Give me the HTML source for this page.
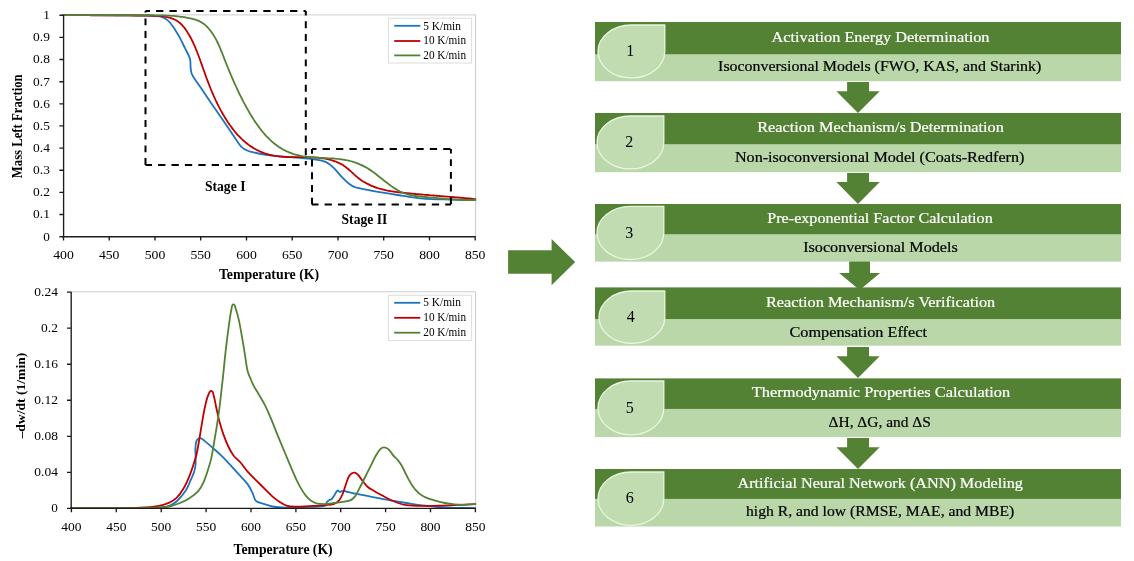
<!DOCTYPE html>
<html lang="en"><head><meta charset="utf-8"><title>Graphical abstract</title>
<style>html,body{margin:0;padding:0;background:#fff}svg{display:block}text{font-family:"Liberation Serif", serif}</style></head><body>
<svg width="1134" height="561" viewBox="0 0 1134 561">
<rect width="1134" height="561" fill="#fff"/>
<path d="M63.6,14.9 H475.6 V236.7" fill="none" stroke="#cbcbcb" stroke-width="1"/>
<path d="M63.6,15.2 C79.1,15.2 94.5,15.2 110.0,15.3 C121.7,15.4 133.3,15.5 145.0,15.7 C148.3,15.8 151.7,15.9 155.0,16.1 C156.7,16.2 158.4,16.1 160.0,16.5 C162.1,17.0 164.1,17.9 165.9,19.0 C167.4,19.9 168.7,21.2 169.9,22.5 C171.8,24.7 173.3,27.1 174.9,29.5 C176.7,32.2 178.3,35.0 179.9,37.9 C181.7,41.2 183.2,44.6 184.9,47.9 C186.2,50.6 187.7,53.2 188.9,55.9 C189.5,57.4 190.1,58.9 190.3,60.5 C190.6,62.8 190.4,65.2 190.6,67.5 C190.8,69.5 191.0,71.6 191.6,73.5 C192.0,74.7 192.7,75.8 193.4,76.9 C195.5,80.2 197.8,83.4 200.0,86.6 C202.2,89.9 204.5,93.2 206.7,96.5 C209.6,100.8 212.6,105.0 215.5,109.3 C218.5,113.7 221.6,118.2 224.6,122.6 C227.4,126.7 230.2,130.8 233.0,134.9 C235.3,138.3 237.5,141.9 240.0,145.2 C240.7,146.1 241.4,146.9 242.3,147.6 C243.3,148.4 244.3,149.2 245.5,149.7 C247.4,150.6 249.3,151.3 251.3,151.8 C256.0,153.0 260.8,154.0 265.6,154.8 C270.4,155.5 275.2,155.9 280.0,156.3 C286.6,156.9 293.2,157.3 299.8,157.9 C305.1,158.4 310.4,158.7 315.7,159.5 C319.1,160.0 322.6,160.5 325.7,161.9 C328.7,163.3 331.3,165.5 333.7,167.8 C336.6,170.5 338.9,173.9 341.7,176.8 C344.2,179.4 346.8,182.0 349.7,184.2 C351.5,185.6 353.5,186.7 355.6,187.4 C359.5,188.6 363.6,189.0 367.6,189.8 C373.3,190.9 378.9,191.9 384.6,192.9 C388.9,193.6 393.1,194.3 397.4,195.0 C401.7,195.7 406.0,196.5 410.3,197.1 C414.6,197.7 418.8,198.3 423.1,198.7 C427.4,199.1 431.6,199.2 435.9,199.3 C440.7,199.4 445.6,199.4 450.4,199.5 C458.7,199.6 467.0,199.8 475.3,200.0" fill="none" stroke="#1f74c0" stroke-width="1.8" stroke-linejoin="round" stroke-linecap="round"/>
<path d="M63.6,15.2 C64.3,15.2 64.9,15.2 65.6,15.2 C66.3,15.2 66.9,15.2 67.6,15.2 C68.3,15.2 68.9,15.2 69.6,15.2 C70.3,15.2 70.9,15.2 71.6,15.2 C72.3,15.2 72.9,15.2 73.6,15.2 C74.3,15.2 74.9,15.2 75.6,15.2 C76.3,15.2 76.9,15.2 77.6,15.2 C78.3,15.2 78.9,15.2 79.6,15.2 C80.3,15.2 80.9,15.2 81.6,15.2 C82.3,15.2 82.9,15.2 83.6,15.2 C84.3,15.2 84.9,15.2 85.6,15.2 C86.3,15.2 86.9,15.2 87.6,15.2 C88.3,15.2 88.9,15.2 89.6,15.2 C90.3,15.2 90.9,15.3 91.6,15.3 C92.3,15.3 92.9,15.3 93.6,15.3 C94.3,15.3 94.9,15.3 95.6,15.3 C96.3,15.3 96.9,15.3 97.6,15.3 C98.3,15.3 98.9,15.3 99.6,15.3 C100.3,15.3 100.9,15.3 101.6,15.3 C102.3,15.3 102.9,15.3 103.6,15.3 C104.3,15.3 104.9,15.3 105.6,15.3 C106.3,15.3 106.9,15.3 107.6,15.3 C108.3,15.3 108.9,15.3 109.6,15.3 C110.3,15.3 110.9,15.3 111.6,15.3 C112.3,15.3 112.9,15.3 113.6,15.3 C114.3,15.4 114.9,15.4 115.6,15.4 C116.3,15.4 116.9,15.4 117.6,15.4 C118.3,15.4 118.9,15.4 119.6,15.4 C120.3,15.4 120.9,15.4 121.6,15.4 C122.3,15.4 122.9,15.4 123.6,15.4 C124.3,15.4 124.9,15.4 125.6,15.4 C126.3,15.4 126.9,15.4 127.6,15.4 C128.3,15.4 128.9,15.4 129.6,15.4 C130.3,15.4 130.9,15.4 131.6,15.4 C132.3,15.4 132.9,15.4 133.6,15.5 C134.3,15.5 134.9,15.5 135.6,15.5 C136.3,15.5 136.9,15.5 137.6,15.5 C138.3,15.5 138.9,15.5 139.6,15.5 C140.3,15.5 140.9,15.5 141.6,15.5 C142.3,15.5 142.9,15.5 143.6,15.5 C144.3,15.5 144.9,15.5 145.6,15.5 C146.3,15.5 146.9,15.5 147.6,15.5 C148.3,15.5 148.9,15.5 149.6,15.6 C150.3,15.6 150.9,15.6 151.6,15.6 C152.3,15.6 152.9,15.6 153.6,15.7 C154.3,15.7 154.9,15.7 155.6,15.8 C156.3,15.8 156.9,15.8 157.6,15.9 C158.3,15.9 158.9,16.0 159.6,16.0 C160.3,16.1 160.9,16.2 161.6,16.2 C162.3,16.3 162.9,16.4 163.6,16.5 C164.3,16.6 164.9,16.7 165.6,16.8 C166.3,16.9 166.9,17.0 167.6,17.2 C168.3,17.3 168.9,17.5 169.6,17.7 C170.3,17.8 170.9,18.0 171.6,18.3 C172.3,18.5 172.9,18.8 173.6,19.1 C174.3,19.4 174.9,19.7 175.6,20.0 C176.3,20.4 177.0,20.8 177.6,21.3 C178.3,21.8 179.0,22.3 179.6,22.8 C180.3,23.4 181.0,24.0 181.6,24.6 C182.3,25.3 183.0,26.1 183.6,26.8 C184.3,27.7 185.0,28.5 185.6,29.4 C186.3,30.4 187.0,31.4 187.6,32.4 C188.3,33.5 189.0,34.6 189.6,35.7 C190.3,37.0 191.0,38.2 191.6,39.5 C192.3,40.9 193.0,42.3 193.6,43.7 C194.3,45.2 195.0,46.7 195.6,48.3 C196.3,49.9 197.0,51.6 197.6,53.2 C198.3,55.0 198.9,56.8 199.6,58.5 C200.3,60.4 200.9,62.3 201.6,64.1 C202.3,66.0 202.9,67.9 203.6,69.8 C204.3,71.7 204.9,73.6 205.6,75.5 C206.3,77.3 206.9,79.1 207.6,80.9 C208.3,82.7 208.9,84.4 209.6,86.1 C210.3,87.8 210.9,89.4 211.6,91.0 C212.3,92.6 212.9,94.1 213.6,95.7 C214.3,97.1 214.9,98.6 215.6,100.1 C216.3,101.4 216.9,102.8 217.6,104.2 C218.3,105.5 218.9,106.8 219.6,108.1 C220.3,109.4 220.9,110.6 221.6,111.8 C222.3,113.0 222.9,114.2 223.6,115.3 C224.3,116.4 224.9,117.5 225.6,118.6 C226.3,119.7 226.9,120.7 227.6,121.7 C228.3,122.7 228.9,123.7 229.6,124.7 C230.3,125.6 230.9,126.5 231.6,127.4 C232.3,128.3 232.9,129.2 233.6,130.0 C234.3,130.9 234.9,131.7 235.6,132.5 C236.3,133.3 236.9,134.0 237.6,134.8 C238.3,135.5 238.9,136.2 239.6,136.9 C240.3,137.6 240.9,138.2 241.6,138.9 C242.3,139.5 242.9,140.1 243.6,140.8 C244.3,141.3 244.9,141.9 245.6,142.5 C246.3,143.0 246.9,143.6 247.6,144.1 C248.3,144.6 248.9,145.1 249.6,145.6 C250.3,146.0 250.9,146.5 251.6,146.9 C252.3,147.3 252.9,147.8 253.6,148.2 C254.3,148.6 254.9,148.9 255.6,149.3 C256.3,149.7 256.9,150.0 257.6,150.3 C258.3,150.7 258.9,151.0 259.6,151.3 C260.3,151.6 260.9,151.9 261.6,152.1 C262.3,152.4 262.9,152.7 263.6,152.9 C264.3,153.1 264.9,153.4 265.6,153.6 C266.3,153.8 266.9,154.0 267.6,154.2 C268.3,154.4 268.9,154.6 269.6,154.7 C270.3,154.9 270.9,155.1 271.6,155.2 C272.3,155.4 272.9,155.5 273.6,155.6 C274.3,155.7 274.9,155.8 275.6,156.0 C276.3,156.1 276.9,156.2 277.6,156.2 C278.3,156.3 278.9,156.4 279.6,156.5 C280.3,156.6 280.9,156.6 281.6,156.7 C282.3,156.7 282.9,156.8 283.6,156.8 C284.3,156.9 284.9,156.9 285.6,157.0 C286.3,157.0 286.9,157.0 287.6,157.0 C288.3,157.1 288.9,157.1 289.6,157.1 C290.3,157.1 290.9,157.1 291.6,157.1 C292.3,157.1 292.9,157.2 293.6,157.2 C294.3,157.2 294.9,157.2 295.6,157.2 C296.3,157.2 296.9,157.2 297.6,157.2 C298.3,157.2 298.9,157.2 299.6,157.1 C300.3,157.1 300.9,157.1 301.6,157.1 C302.3,157.1 302.9,157.1 303.6,157.1 C304.3,157.1 304.9,157.1 305.6,157.1 C306.3,157.1 306.9,157.2 307.6,157.2 C308.3,157.2 308.9,157.2 309.6,157.2 C310.3,157.2 310.9,157.2 311.6,157.3 C312.3,157.3 312.9,157.3 313.6,157.3 C314.3,157.4 314.9,157.4 315.6,157.5 C316.3,157.5 316.9,157.6 317.6,157.6 C318.3,157.7 318.9,157.8 319.6,157.8 C320.3,157.9 320.9,158.0 321.6,158.1 C322.3,158.2 322.9,158.3 323.6,158.4 C324.3,158.5 324.9,158.6 325.6,158.7 C326.3,158.9 326.9,159.0 327.6,159.2 C328.3,159.3 328.9,159.5 329.6,159.6 C330.3,159.8 330.9,160.0 331.6,160.2 C332.3,160.4 332.9,160.6 333.6,160.8 C334.3,161.1 334.9,161.3 335.6,161.5 C336.3,161.8 336.9,162.1 337.6,162.3 C338.3,162.6 338.9,162.9 339.6,163.3 C340.3,163.6 340.9,163.9 341.6,164.3 C342.3,164.7 342.9,165.1 343.6,165.6 C344.3,166.0 344.9,166.5 345.6,167.0 C346.3,167.5 346.9,168.0 347.6,168.6 C348.3,169.1 348.9,169.7 349.6,170.3 C350.3,170.9 350.9,171.5 351.6,172.1 C352.3,172.7 352.9,173.3 353.6,173.9 C354.3,174.5 354.9,175.1 355.6,175.7 C356.3,176.2 356.9,176.8 357.6,177.4 C358.3,177.9 358.9,178.5 359.6,179.0 C360.3,179.5 360.9,179.9 361.6,180.4 C362.3,180.9 362.9,181.3 363.6,181.7 C364.3,182.1 364.9,182.5 365.6,182.9 C366.3,183.3 366.9,183.6 367.6,183.9 C368.3,184.3 368.9,184.6 369.6,184.9 C370.3,185.2 370.9,185.5 371.6,185.8 C372.3,186.1 372.9,186.3 373.6,186.6 C374.3,186.9 374.9,187.1 375.6,187.3 C376.3,187.6 376.9,187.8 377.6,188.0 C378.3,188.2 378.9,188.4 379.6,188.6 C380.3,188.8 380.9,189.0 381.6,189.2 C382.3,189.4 382.9,189.5 383.6,189.7 C384.3,189.9 384.9,190.0 385.6,190.2 C386.3,190.3 386.9,190.4 387.6,190.6 C388.3,190.7 388.9,190.8 389.6,191.0 C390.3,191.1 390.9,191.2 391.6,191.3 C392.3,191.4 392.9,191.5 393.6,191.6 C394.3,191.7 394.9,191.8 395.6,191.9 C396.3,192.0 396.9,192.1 397.6,192.1 C398.3,192.2 398.9,192.3 399.6,192.4 C400.3,192.5 400.9,192.5 401.6,192.6 C402.3,192.7 402.9,192.7 403.6,192.8 C404.3,192.9 404.9,193.0 405.6,193.0 C406.3,193.1 406.9,193.2 407.6,193.2 C408.3,193.3 408.9,193.4 409.6,193.4 C410.3,193.5 410.9,193.5 411.6,193.6 C412.3,193.7 412.9,193.7 413.6,193.8 C414.3,193.9 414.9,193.9 415.6,194.0 C416.3,194.0 416.9,194.1 417.6,194.2 C418.3,194.2 418.9,194.3 419.6,194.3 C420.3,194.4 420.9,194.5 421.6,194.5 C422.3,194.6 422.9,194.6 423.6,194.7 C424.3,194.7 424.9,194.8 425.6,194.9 C426.3,194.9 426.9,195.0 427.6,195.0 C428.3,195.1 428.9,195.1 429.6,195.2 C430.3,195.2 430.9,195.3 431.6,195.4 C432.3,195.4 432.9,195.5 433.6,195.5 C434.3,195.6 434.9,195.6 435.6,195.7 C436.3,195.7 436.9,195.8 437.6,195.8 C438.3,195.9 438.9,195.9 439.6,196.0 C440.3,196.0 440.9,196.1 441.6,196.1 C442.3,196.2 442.9,196.3 443.6,196.3 C444.3,196.4 444.9,196.4 445.6,196.5 C446.3,196.5 446.9,196.6 447.6,196.6 C448.3,196.7 448.9,196.7 449.6,196.8 C450.3,196.8 450.9,196.9 451.6,196.9 C452.3,197.0 452.9,197.1 453.6,197.1 C454.3,197.2 454.9,197.2 455.6,197.3 C456.3,197.3 456.9,197.4 457.6,197.4 C458.3,197.5 458.9,197.6 459.6,197.6 C460.3,197.7 460.9,197.7 461.6,197.8 C462.3,197.8 462.9,197.9 463.6,198.0 C464.3,198.0 464.9,198.1 465.6,198.1 C466.3,198.2 466.9,198.3 467.6,198.3 C468.3,198.4 468.9,198.4 469.6,198.5 C470.3,198.6 470.9,198.6 471.6,198.7 C472.3,198.8 472.9,198.8 473.6,198.9 C474.2,198.9 474.7,199.0 475.3,199.1" fill="none" stroke="#c00000" stroke-width="1.8" stroke-linejoin="round" stroke-linecap="round"/>
<path d="M63.6,15.2 C64.3,15.2 64.9,15.2 65.6,15.2 C66.3,15.2 66.9,15.2 67.6,15.2 C68.3,15.2 68.9,15.2 69.6,15.2 C70.3,15.2 70.9,15.2 71.6,15.2 C72.3,15.2 72.9,15.2 73.6,15.2 C74.3,15.2 74.9,15.2 75.6,15.2 C76.3,15.2 76.9,15.2 77.6,15.2 C78.3,15.2 78.9,15.2 79.6,15.2 C80.3,15.2 80.9,15.2 81.6,15.2 C82.3,15.2 82.9,15.2 83.6,15.2 C84.3,15.2 84.9,15.2 85.6,15.2 C86.3,15.2 86.9,15.2 87.6,15.2 C88.3,15.2 88.9,15.2 89.6,15.2 C90.3,15.2 90.9,15.2 91.6,15.2 C92.3,15.2 92.9,15.2 93.6,15.2 C94.3,15.2 94.9,15.2 95.6,15.2 C96.3,15.2 96.9,15.2 97.6,15.2 C98.3,15.2 98.9,15.2 99.6,15.2 C100.3,15.2 100.9,15.2 101.6,15.2 C102.3,15.2 102.9,15.2 103.6,15.2 C104.3,15.2 104.9,15.2 105.6,15.2 C106.3,15.2 106.9,15.2 107.6,15.2 C108.3,15.2 108.9,15.2 109.6,15.2 C110.3,15.2 110.9,15.2 111.6,15.2 C112.3,15.2 112.9,15.2 113.6,15.2 C114.3,15.2 114.9,15.3 115.6,15.3 C116.3,15.3 116.9,15.3 117.6,15.3 C118.3,15.3 118.9,15.3 119.6,15.3 C120.3,15.3 120.9,15.3 121.6,15.3 C122.3,15.3 122.9,15.3 123.6,15.3 C124.3,15.3 124.9,15.3 125.6,15.3 C126.3,15.3 126.9,15.3 127.6,15.3 C128.3,15.3 128.9,15.3 129.6,15.3 C130.3,15.3 130.9,15.3 131.6,15.3 C132.3,15.3 132.9,15.3 133.6,15.3 C134.3,15.3 134.9,15.3 135.6,15.3 C136.3,15.3 136.9,15.3 137.6,15.3 C138.3,15.3 138.9,15.3 139.6,15.3 C140.3,15.3 140.9,15.3 141.6,15.3 C142.3,15.3 142.9,15.3 143.6,15.3 C144.3,15.3 144.9,15.3 145.6,15.3 C146.3,15.3 146.9,15.3 147.6,15.2 C148.3,15.2 148.9,15.2 149.6,15.2 C150.3,15.2 150.9,15.2 151.6,15.2 C152.3,15.2 152.9,15.2 153.6,15.2 C154.3,15.2 154.9,15.2 155.6,15.3 C156.3,15.3 156.9,15.3 157.6,15.3 C158.3,15.3 158.9,15.3 159.6,15.3 C160.3,15.3 160.9,15.3 161.6,15.3 C162.3,15.4 162.9,15.4 163.6,15.4 C164.3,15.4 164.9,15.4 165.6,15.5 C166.3,15.5 166.9,15.5 167.6,15.6 C168.3,15.6 168.9,15.6 169.6,15.7 C170.3,15.7 170.9,15.7 171.6,15.8 C172.3,15.8 172.9,15.9 173.6,15.9 C174.3,16.0 174.9,16.1 175.6,16.1 C176.3,16.2 176.9,16.3 177.6,16.3 C178.3,16.4 178.9,16.5 179.6,16.6 C180.3,16.6 180.9,16.7 181.6,16.8 C182.3,16.9 182.9,17.0 183.6,17.1 C184.3,17.2 184.9,17.3 185.6,17.4 C186.3,17.5 186.9,17.7 187.6,17.8 C188.3,17.9 188.9,18.0 189.6,18.2 C190.3,18.3 190.9,18.5 191.6,18.6 C192.3,18.8 192.9,18.9 193.6,19.1 C194.3,19.3 194.9,19.5 195.6,19.7 C196.3,19.9 196.9,20.2 197.6,20.4 C198.3,20.7 198.9,21.0 199.6,21.4 C200.3,21.7 201.0,22.1 201.6,22.5 C202.3,22.9 203.0,23.3 203.6,23.8 C204.3,24.3 205.0,24.8 205.6,25.4 C206.3,26.0 207.0,26.7 207.6,27.3 C208.3,28.0 209.0,28.8 209.6,29.6 C210.3,30.4 211.0,31.3 211.6,32.2 C212.3,33.2 213.0,34.2 213.6,35.2 C214.3,36.3 215.0,37.5 215.6,38.6 C216.3,39.9 217.0,41.2 217.6,42.5 C218.3,44.0 219.0,45.4 219.6,46.9 C220.3,48.5 220.9,50.1 221.6,51.7 C222.3,53.4 222.9,55.1 223.6,56.8 C224.3,58.6 224.9,60.3 225.6,62.0 C226.3,63.7 226.9,65.3 227.6,67.0 C228.3,68.6 228.9,70.3 229.6,71.9 C230.3,73.5 230.9,75.0 231.6,76.6 C232.3,78.1 232.9,79.7 233.6,81.2 C234.3,82.7 234.9,84.2 235.6,85.7 C236.3,87.1 236.9,88.5 237.6,90.0 C238.3,91.4 238.9,92.8 239.6,94.2 C240.3,95.5 240.9,96.9 241.6,98.2 C242.3,99.5 242.9,100.8 243.6,102.1 C244.3,103.3 244.9,104.6 245.6,105.8 C246.3,107.0 246.9,108.2 247.6,109.4 C248.3,110.6 248.9,111.8 249.6,112.9 C250.3,114.0 250.9,115.1 251.6,116.2 C252.3,117.3 252.9,118.3 253.6,119.4 C254.3,120.4 254.9,121.4 255.6,122.4 C256.3,123.4 256.9,124.3 257.6,125.3 C258.3,126.2 258.9,127.1 259.6,128.0 C260.3,128.9 260.9,129.7 261.6,130.6 C262.3,131.4 262.9,132.2 263.6,133.0 C264.3,133.8 264.9,134.5 265.6,135.3 C266.3,136.0 266.9,136.7 267.6,137.4 C268.3,138.1 268.9,138.7 269.6,139.4 C270.3,140.0 270.9,140.6 271.6,141.2 C272.3,141.8 272.9,142.4 273.6,143.0 C274.3,143.5 274.9,144.0 275.6,144.5 C276.3,145.0 276.9,145.5 277.6,146.0 C278.3,146.5 278.9,146.9 279.6,147.4 C280.3,147.8 280.9,148.2 281.6,148.6 C282.3,149.0 282.9,149.4 283.6,149.7 C284.3,150.1 284.9,150.4 285.6,150.8 C286.3,151.1 286.9,151.4 287.6,151.7 C288.3,152.0 288.9,152.3 289.6,152.6 C290.3,152.8 290.9,153.1 291.6,153.3 C292.3,153.6 292.9,153.8 293.6,154.0 C294.3,154.2 294.9,154.4 295.6,154.6 C296.3,154.8 296.9,155.0 297.6,155.1 C298.3,155.3 298.9,155.5 299.6,155.6 C300.3,155.8 300.9,155.9 301.6,156.0 C302.3,156.2 302.9,156.3 303.6,156.4 C304.3,156.5 304.9,156.6 305.6,156.7 C306.3,156.8 306.9,156.9 307.6,156.9 C308.3,157.0 308.9,157.1 309.6,157.2 C310.3,157.2 310.9,157.3 311.6,157.3 C312.3,157.4 312.9,157.5 313.6,157.5 C314.3,157.5 314.9,157.6 315.6,157.6 C316.3,157.7 316.9,157.7 317.6,157.7 C318.3,157.8 318.9,157.8 319.6,157.8 C320.3,157.9 320.9,157.9 321.6,157.9 C322.3,157.9 322.9,158.0 323.6,158.0 C324.3,158.0 324.9,158.0 325.6,158.1 C326.3,158.1 326.9,158.1 327.6,158.2 C328.3,158.2 328.9,158.2 329.6,158.3 C330.3,158.3 330.9,158.3 331.6,158.4 C332.3,158.4 332.9,158.5 333.6,158.5 C334.3,158.6 334.9,158.6 335.6,158.7 C336.3,158.7 336.9,158.8 337.6,158.9 C338.3,158.9 338.9,159.0 339.6,159.1 C340.3,159.2 340.9,159.3 341.6,159.4 C342.3,159.5 342.9,159.6 343.6,159.7 C344.3,159.8 344.9,159.9 345.6,160.0 C346.3,160.2 346.9,160.3 347.6,160.4 C348.3,160.6 348.9,160.7 349.6,160.9 C350.3,161.1 350.9,161.3 351.6,161.4 C352.3,161.6 352.9,161.8 353.6,162.0 C354.3,162.3 354.9,162.5 355.6,162.7 C356.3,162.9 356.9,163.2 357.6,163.4 C358.3,163.7 358.9,164.0 359.6,164.3 C360.3,164.5 360.9,164.8 361.6,165.1 C362.3,165.5 362.9,165.8 363.6,166.1 C364.3,166.5 364.9,166.8 365.6,167.2 C366.3,167.6 366.9,167.9 367.6,168.3 C368.3,168.7 368.9,169.2 369.6,169.6 C370.3,170.0 370.9,170.5 371.6,170.9 C372.3,171.4 372.9,171.9 373.6,172.4 C374.3,172.8 374.9,173.3 375.6,173.8 C376.3,174.4 376.9,174.9 377.6,175.4 C378.3,175.9 378.9,176.4 379.6,177.0 C380.3,177.5 380.9,178.0 381.6,178.6 C382.3,179.1 382.9,179.6 383.6,180.2 C384.3,180.7 384.9,181.2 385.6,181.8 C386.3,182.3 386.9,182.8 387.6,183.3 C388.3,183.8 388.9,184.4 389.6,184.9 C390.3,185.3 390.9,185.8 391.6,186.3 C392.3,186.8 392.9,187.3 393.6,187.7 C394.3,188.1 394.9,188.6 395.6,189.0 C396.3,189.4 396.9,189.8 397.6,190.2 C398.3,190.6 398.9,190.9 399.6,191.3 C400.3,191.6 400.9,191.9 401.6,192.2 C402.3,192.5 402.9,192.7 403.6,193.0 C404.3,193.3 404.9,193.5 405.6,193.7 C406.3,193.9 406.9,194.1 407.6,194.3 C408.3,194.5 408.9,194.7 409.6,194.8 C410.3,195.0 410.9,195.1 411.6,195.3 C412.3,195.4 412.9,195.5 413.6,195.6 C414.3,195.8 414.9,195.9 415.6,196.0 C416.3,196.1 416.9,196.1 417.6,196.2 C418.3,196.3 418.9,196.4 419.6,196.4 C420.3,196.5 420.9,196.6 421.6,196.6 C422.3,196.7 422.9,196.8 423.6,196.8 C424.3,196.9 424.9,196.9 425.6,197.0 C426.3,197.1 426.9,197.1 427.6,197.2 C428.3,197.2 428.9,197.3 429.6,197.4 C430.3,197.4 430.9,197.5 431.6,197.6 C432.3,197.6 432.9,197.7 433.6,197.7 C434.3,197.8 434.9,197.9 435.6,197.9 C436.3,198.0 436.9,198.1 437.6,198.1 C438.3,198.2 438.9,198.3 439.6,198.3 C440.3,198.4 440.9,198.5 441.6,198.5 C442.3,198.6 442.9,198.6 443.6,198.7 C444.3,198.8 444.9,198.8 445.6,198.9 C446.3,198.9 446.9,199.0 447.6,199.1 C448.3,199.1 448.9,199.2 449.6,199.2 C450.3,199.3 450.9,199.3 451.6,199.4 C452.3,199.4 452.9,199.5 453.6,199.5 C454.3,199.6 454.9,199.6 455.6,199.7 C456.3,199.7 456.9,199.7 457.6,199.8 C458.3,199.8 458.9,199.8 459.6,199.9 C460.3,199.9 460.9,199.9 461.6,200.0 C462.3,200.0 462.9,200.0 463.6,200.0 C464.3,200.0 464.9,200.0 465.6,200.1 C466.3,200.1 466.9,200.1 467.6,200.1 C468.3,200.1 468.9,200.1 469.6,200.1 C470.3,200.1 470.9,200.1 471.6,200.1 C472.3,200.0 472.9,200.0 473.6,200.0 C474.2,200.0 474.7,200.0 475.3,199.9" fill="none" stroke="#548235" stroke-width="1.8" stroke-linejoin="round" stroke-linecap="round"/>
<path d="M63.6,14.9 V236.7 H475.8 M63.5,236.7 v3.8 M109.2,236.7 v3.8 M155.0,236.7 v3.8 M200.7,236.7 v3.8 M246.5,236.7 v3.8 M292.2,236.7 v3.8 M338.0,236.7 v3.8 M383.7,236.7 v3.8 M429.5,236.7 v3.8 M475.2,236.7 v3.8 M63.6,236.7 h-4.2 M63.6,214.5 h-4.2 M63.6,192.4 h-4.2 M63.6,170.2 h-4.2 M63.6,148.1 h-4.2 M63.6,125.9 h-4.2 M63.6,103.8 h-4.2 M63.6,81.7 h-4.2 M63.6,59.5 h-4.2 M63.6,37.3 h-4.2 M63.6,15.2 h-4.2" fill="none" stroke="#1c1c1c" stroke-width="1.35"/>
<text x="63.5" y="258.7" font-size="13.3" text-anchor="middle" fill="#000" textLength="20.6" lengthAdjust="spacingAndGlyphs">400</text>
<text x="109.2" y="258.7" font-size="13.3" text-anchor="middle" fill="#000" textLength="20.6" lengthAdjust="spacingAndGlyphs">450</text>
<text x="155.0" y="258.7" font-size="13.3" text-anchor="middle" fill="#000" textLength="20.6" lengthAdjust="spacingAndGlyphs">500</text>
<text x="200.7" y="258.7" font-size="13.3" text-anchor="middle" fill="#000" textLength="20.6" lengthAdjust="spacingAndGlyphs">550</text>
<text x="246.5" y="258.7" font-size="13.3" text-anchor="middle" fill="#000" textLength="20.6" lengthAdjust="spacingAndGlyphs">600</text>
<text x="292.2" y="258.7" font-size="13.3" text-anchor="middle" fill="#000" textLength="20.6" lengthAdjust="spacingAndGlyphs">650</text>
<text x="338.0" y="258.7" font-size="13.3" text-anchor="middle" fill="#000" textLength="20.6" lengthAdjust="spacingAndGlyphs">700</text>
<text x="383.7" y="258.7" font-size="13.3" text-anchor="middle" fill="#000" textLength="20.6" lengthAdjust="spacingAndGlyphs">750</text>
<text x="429.5" y="258.7" font-size="13.3" text-anchor="middle" fill="#000" textLength="20.6" lengthAdjust="spacingAndGlyphs">800</text>
<text x="475.2" y="258.7" font-size="13.3" text-anchor="middle" fill="#000" textLength="20.6" lengthAdjust="spacingAndGlyphs">850</text>
<text x="49.9" y="240.5" font-size="13.3" text-anchor="end" fill="#000" textLength="6.6" lengthAdjust="spacingAndGlyphs">0</text>
<text x="49.9" y="218.3" font-size="13.3" text-anchor="end" fill="#000" textLength="16.8" lengthAdjust="spacingAndGlyphs">0.1</text>
<text x="49.9" y="196.2" font-size="13.3" text-anchor="end" fill="#000" textLength="16.8" lengthAdjust="spacingAndGlyphs">0.2</text>
<text x="49.9" y="174.1" font-size="13.3" text-anchor="end" fill="#000" textLength="16.8" lengthAdjust="spacingAndGlyphs">0.3</text>
<text x="49.9" y="151.9" font-size="13.3" text-anchor="end" fill="#000" textLength="16.8" lengthAdjust="spacingAndGlyphs">0.4</text>
<text x="49.9" y="129.8" font-size="13.3" text-anchor="end" fill="#000" textLength="16.8" lengthAdjust="spacingAndGlyphs">0.5</text>
<text x="49.9" y="107.6" font-size="13.3" text-anchor="end" fill="#000" textLength="16.8" lengthAdjust="spacingAndGlyphs">0.6</text>
<text x="49.9" y="85.5" font-size="13.3" text-anchor="end" fill="#000" textLength="16.8" lengthAdjust="spacingAndGlyphs">0.7</text>
<text x="49.9" y="63.3" font-size="13.3" text-anchor="end" fill="#000" textLength="16.8" lengthAdjust="spacingAndGlyphs">0.8</text>
<text x="49.9" y="41.1" font-size="13.3" text-anchor="end" fill="#000" textLength="16.8" lengthAdjust="spacingAndGlyphs">0.9</text>
<text x="49.9" y="19.0" font-size="13.3" text-anchor="end" fill="#000" textLength="6.6" lengthAdjust="spacingAndGlyphs">1</text>
<text x="269.0" y="279.2" font-size="14.2" text-anchor="middle" font-weight="bold" fill="#000" textLength="100.2" lengthAdjust="spacingAndGlyphs">Temperature (K)</text>
<text x="22.3" y="126.3" font-size="14.8" text-anchor="middle" font-weight="bold" fill="#000" textLength="103.8" lengthAdjust="spacingAndGlyphs" transform="rotate(-90 22.3 126.3)">Mass Left Fraction</text>
<g fill="none" stroke="#000" stroke-width="2"><path d="M145.5,11.0 H305.8" stroke-dasharray="7.3 6.1" stroke-dashoffset="2.8"/><path d="M305.8,11.0 V165.0" stroke-dasharray="6.9 5.8" stroke-dashoffset="2.4"/><path d="M145.5,165.0 H305.8" stroke-dasharray="7.3 6.1" stroke-dashoffset="0.8"/><path d="M145.5,165.0 V11.0" stroke-dasharray="6.9 5.8" stroke-dashoffset="0.0"/></g>
<g fill="none" stroke="#000" stroke-width="2"><path d="M312.0,148.9 H450.9" stroke-dasharray="7.3 6.1" stroke-dashoffset="2.8"/><path d="M450.9,148.9 V204.6" stroke-dasharray="6.9 5.8" stroke-dashoffset="2.4"/><path d="M312.0,204.6 H450.9" stroke-dasharray="7.3 6.1" stroke-dashoffset="0.8"/><path d="M312.0,204.6 V148.9" stroke-dasharray="6.9 5.8" stroke-dashoffset="0.0"/></g>
<text x="225.2" y="191.1" font-size="13.8" text-anchor="middle" font-weight="bold" fill="#000" textLength="40.5" lengthAdjust="spacingAndGlyphs">Stage I</text>
<text x="364.4" y="223.9" font-size="13.8" text-anchor="middle" font-weight="bold" fill="#000" textLength="45.7" lengthAdjust="spacingAndGlyphs">Stage II</text>
<rect x="388.4" y="18.2" width="83.2" height="44.8" fill="#fff" stroke="#dcdcdc" stroke-width="1"/>
<path d="M394.2,25.8 H420.3" stroke="#1f74c0" stroke-width="1.8"/>
<text x="423.3" y="29.8" font-size="11.6" fill="#000" textLength="37.6" lengthAdjust="spacingAndGlyphs">5 K/min</text>
<path d="M394.2,41.0 H420.3" stroke="#c00000" stroke-width="1.8"/>
<text x="423.3" y="44.4" font-size="11.6" fill="#000" textLength="42.8" lengthAdjust="spacingAndGlyphs">10 K/min</text>
<path d="M394.2,55.4 H420.3" stroke="#548235" stroke-width="1.8"/>
<text x="423.3" y="59.1" font-size="11.6" fill="#000" textLength="42.8" lengthAdjust="spacingAndGlyphs">20 K/min</text>
<path d="M71.2,291.8 H475.6 V508.4" fill="none" stroke="#cbcbcb" stroke-width="1"/>
<path d="M71.2,508.2 C94.1,508.2 117.1,508.2 140.0,508.1 C147.1,508.1 154.2,508.3 161.2,507.7 C164.4,507.4 167.6,506.6 170.5,505.3 C173.1,504.2 175.5,502.5 177.6,500.5 C180.6,497.6 183.3,494.3 185.6,490.8 C187.7,487.5 189.0,483.8 190.6,480.2 C191.8,477.6 193.1,475.0 194.0,472.3 C194.8,469.9 195.2,467.5 195.5,465.0 C195.8,462.3 195.6,459.7 195.6,457.0 C195.6,454.3 195.3,451.7 195.4,449.0 C195.5,446.5 195.6,444.0 196.3,441.6 C196.6,440.5 197.3,439.5 198.2,438.8 C198.8,438.3 199.7,438.0 200.4,438.2 C201.8,438.6 203.0,439.7 204.2,440.6 C207.0,442.8 209.6,445.1 212.2,447.4 C214.9,449.8 217.7,452.1 220.3,454.6 C223.1,457.2 225.7,460.0 228.3,462.8 C231.9,466.6 235.3,470.5 238.8,474.4 C241.7,477.6 245.0,480.6 247.6,484.1 C249.8,487.1 251.3,490.5 252.9,493.8 C254.0,496.1 254.1,499.1 255.9,500.8 C257.9,502.7 260.9,502.9 263.5,503.8 C266.4,504.8 269.3,506.0 272.3,506.5 C276.4,507.2 280.5,507.6 284.6,507.6 C293.1,507.7 301.5,507.3 310.0,506.9 C315.1,506.6 320.3,507.0 325.2,505.6 C326.4,505.3 326.1,503.2 326.8,502.2 C327.5,501.3 328.4,500.7 329.3,500.1 C330.0,499.6 331.0,499.6 331.7,499.0 C332.7,498.1 333.3,496.9 334.1,495.8 C335.3,494.1 335.9,491.8 337.6,490.6 C338.3,490.1 338.9,491.8 339.7,491.8 C341.1,491.8 342.3,490.7 343.7,490.8 C345.4,490.9 346.9,491.8 348.5,492.2 C351.7,493.0 354.9,493.6 358.1,494.2 C363.5,495.3 368.8,496.4 374.2,497.4 C379.5,498.4 384.9,499.4 390.2,500.3 C395.6,501.2 400.9,502.1 406.3,503.0 C411.6,503.8 416.9,504.7 422.3,505.4 C427.6,506.1 433.0,506.6 438.3,507.0 C443.7,507.4 449.0,507.6 454.4,507.8 C461.4,508.0 468.3,508.0 475.3,508.1" fill="none" stroke="#1f74c0" stroke-width="1.8" stroke-linejoin="round" stroke-linecap="round"/>
<path d="M71.2,508.2 C87.5,508.2 103.7,508.2 120.0,508.1 C126.7,508.1 133.3,508.1 140.0,507.7 C145.9,507.4 151.8,507.1 157.6,506.1 C161.4,505.4 165.2,504.3 168.8,502.8 C171.5,501.7 174.2,500.2 176.3,498.2 C179.2,495.4 181.5,492.0 183.5,488.5 C186.0,484.3 187.9,479.8 189.7,475.3 C191.4,471.3 192.6,467.1 194.0,462.9 C194.9,460.3 195.8,457.7 196.4,455.0 C197.6,449.8 198.4,444.6 199.3,439.4 C200.3,433.5 201.2,427.6 202.2,421.7 C203.1,416.4 204.0,411.0 205.2,405.7 C206.0,402.0 206.8,398.3 208.3,394.8 C208.9,393.3 209.8,390.5 211.4,390.9 C213.2,391.3 213.3,394.2 213.8,396.0 C214.9,399.7 215.4,403.5 216.2,407.3 C217.3,412.1 218.2,416.9 219.5,421.7 C220.7,426.0 222.0,430.4 223.5,434.6 C224.9,438.6 226.5,442.6 228.3,446.5 C229.8,449.6 231.4,452.7 233.5,455.5 C235.5,458.1 238.3,460.0 240.5,462.5 C243.0,465.4 245.0,468.8 247.6,471.7 C250.4,474.8 253.5,477.6 256.4,480.6 C259.3,483.5 262.3,486.5 265.2,489.4 C267.6,491.7 269.8,494.2 272.3,496.4 C274.5,498.3 276.8,500.1 279.3,501.7 C281.6,503.2 283.8,504.8 286.4,505.6 C289.2,506.5 292.2,506.6 295.2,506.7 C299.9,506.8 304.6,506.4 309.3,506.2 C314.9,505.9 320.4,505.6 326.0,505.1 C328.7,504.8 331.5,504.7 334.1,503.8 C335.9,503.2 337.7,502.1 338.9,500.6 C340.7,498.5 341.8,495.9 342.9,493.4 C344.2,490.3 344.9,486.9 346.1,483.7 C347.1,481.0 347.8,478.2 349.3,475.7 C350.0,474.5 351.3,473.7 352.5,473.0 C353.2,472.6 354.1,472.4 354.9,472.7 C356.1,473.1 357.2,474.0 358.1,474.9 C359.9,476.9 361.2,479.2 362.9,481.3 C364.5,483.3 365.9,485.4 367.8,487.0 C369.7,488.6 372.0,489.7 374.2,491.0 C376.8,492.6 379.5,494.0 382.2,495.5 C384.9,497.0 387.5,498.5 390.2,499.8 C392.8,501.0 395.5,502.1 398.2,503.0 C400.8,503.9 403.5,504.8 406.3,505.1 C411.6,505.7 417.0,505.8 422.3,505.9 C427.6,506.0 433.0,505.8 438.3,505.7 C443.7,505.6 449.0,505.3 454.4,505.1 C461.4,504.8 468.3,504.4 475.3,504.1" fill="none" stroke="#c00000" stroke-width="1.8" stroke-linejoin="round" stroke-linecap="round"/>
<path d="M71.2,508.2 C87.5,508.2 103.7,508.2 120.0,508.2 C126.7,508.2 133.3,508.3 140.0,508.1 C148.8,507.9 157.7,508.0 166.5,507.0 C170.7,506.5 174.8,505.0 178.8,503.5 C182.5,502.1 186.1,500.3 189.4,498.2 C192.6,496.2 195.7,493.9 198.2,491.1 C200.5,488.5 202.1,485.4 203.5,482.3 C205.3,478.3 206.6,474.1 207.9,470.0 C209.2,465.9 210.5,461.8 211.4,457.6 C212.7,451.6 213.6,445.5 214.6,439.4 C215.4,434.6 216.3,429.7 217.0,424.9 C217.9,419.0 218.8,413.2 219.5,407.3 C220.4,400.3 221.1,393.4 221.9,386.4 C222.2,383.5 222.6,380.7 222.9,377.8 C223.9,368.5 224.7,359.2 225.8,349.9 C226.7,341.9 227.7,333.9 228.8,325.9 C229.6,320.4 230.2,314.9 231.4,309.5 C231.8,307.7 231.6,304.6 233.4,304.4 C235.1,304.2 235.2,307.4 235.8,309.0 C237.0,312.6 238.0,316.2 238.8,319.9 C240.0,325.2 240.9,330.6 241.8,335.9 C242.9,341.9 243.8,347.9 244.8,353.9 C245.8,359.9 246.3,365.9 247.8,371.8 C248.6,375.0 250.2,378.0 251.5,381.0 C252.3,382.8 253.1,384.7 254.0,386.4 C255.5,389.1 257.2,391.7 258.8,394.4 C261.0,398.1 263.3,401.8 265.2,405.7 C267.5,410.4 269.6,415.3 271.6,420.1 C273.8,425.4 275.8,430.9 278.0,436.2 C280.2,441.5 282.4,446.7 284.6,452.0 C286.4,456.2 288.1,460.5 289.9,464.7 C291.6,468.8 293.3,472.9 295.2,477.0 C296.9,480.6 298.5,484.2 300.5,487.6 C302.1,490.4 303.8,493.1 305.8,495.6 C307.3,497.5 309.1,499.3 311.1,500.8 C312.7,501.9 314.5,502.8 316.4,503.3 C319.0,503.9 321.7,504.1 324.4,504.1 C327.7,504.0 330.9,503.4 334.1,503.0 C336.8,502.7 339.4,502.3 342.1,501.9 C344.8,501.4 347.6,501.3 350.1,500.3 C352.0,499.5 353.7,498.2 354.9,496.6 C356.9,494.0 358.2,490.8 359.7,487.8 C361.7,484.1 363.5,480.3 365.4,476.5 C367.3,472.8 369.1,469.0 371.0,465.3 C372.6,462.1 374.0,458.8 375.8,455.7 C377.2,453.3 378.6,450.9 380.6,448.9 C381.5,448.0 382.8,447.2 384.1,447.3 C385.7,447.4 387.4,448.2 388.6,449.3 C390.6,451.1 391.7,453.7 393.4,455.7 C394.6,457.1 396.2,458.3 397.4,459.7 C398.9,461.5 400.3,463.3 401.5,465.3 C403.3,468.4 404.6,471.7 406.3,474.9 C408.3,478.7 410.2,482.6 412.7,486.2 C414.5,488.8 416.7,491.3 419.1,493.4 C421.0,495.1 423.2,496.4 425.5,497.4 C428.6,498.8 431.9,499.7 435.1,500.6 C438.3,501.5 441.5,502.4 444.8,503.0 C448.0,503.6 451.2,504.1 454.4,504.4 C457.6,504.7 460.8,504.8 464.0,504.8 C467.8,504.7 471.5,504.3 475.3,504.1" fill="none" stroke="#548235" stroke-width="1.8" stroke-linejoin="round" stroke-linecap="round"/>
<path d="M71.2,291.8 V508.4 H475.8 M71.4,508.4 v3.8 M116.3,508.4 v3.8 M161.2,508.4 v3.8 M206.1,508.4 v3.8 M251.0,508.4 v3.8 M295.9,508.4 v3.8 M340.7,508.4 v3.8 M385.6,508.4 v3.8 M430.5,508.4 v3.8 M475.4,508.4 v3.8 M71.2,508.4 h-4.2 M71.2,472.3 h-4.2 M71.2,436.3 h-4.2 M71.2,400.2 h-4.2 M71.2,364.2 h-4.2 M71.2,328.1 h-4.2 M71.2,292.1 h-4.2" fill="none" stroke="#1c1c1c" stroke-width="1.35"/>
<text x="71.4" y="530.8" font-size="13.3" text-anchor="middle" fill="#000" textLength="20.2" lengthAdjust="spacingAndGlyphs">400</text>
<text x="116.3" y="530.8" font-size="13.3" text-anchor="middle" fill="#000" textLength="20.2" lengthAdjust="spacingAndGlyphs">450</text>
<text x="161.2" y="530.8" font-size="13.3" text-anchor="middle" fill="#000" textLength="20.2" lengthAdjust="spacingAndGlyphs">500</text>
<text x="206.1" y="530.8" font-size="13.3" text-anchor="middle" fill="#000" textLength="20.2" lengthAdjust="spacingAndGlyphs">550</text>
<text x="251.0" y="530.8" font-size="13.3" text-anchor="middle" fill="#000" textLength="20.2" lengthAdjust="spacingAndGlyphs">600</text>
<text x="295.9" y="530.8" font-size="13.3" text-anchor="middle" fill="#000" textLength="20.2" lengthAdjust="spacingAndGlyphs">650</text>
<text x="340.7" y="530.8" font-size="13.3" text-anchor="middle" fill="#000" textLength="20.2" lengthAdjust="spacingAndGlyphs">700</text>
<text x="385.6" y="530.8" font-size="13.3" text-anchor="middle" fill="#000" textLength="20.2" lengthAdjust="spacingAndGlyphs">750</text>
<text x="430.5" y="530.8" font-size="13.3" text-anchor="middle" fill="#000" textLength="20.2" lengthAdjust="spacingAndGlyphs">800</text>
<text x="475.4" y="530.8" font-size="13.3" text-anchor="middle" fill="#000" textLength="20.2" lengthAdjust="spacingAndGlyphs">850</text>
<text x="57.9" y="512.2" font-size="13.3" text-anchor="end" fill="#000" textLength="6.6" lengthAdjust="spacingAndGlyphs">0</text>
<text x="57.9" y="476.1" font-size="13.3" text-anchor="end" fill="#000" textLength="23.6" lengthAdjust="spacingAndGlyphs">0.04</text>
<text x="57.9" y="440.1" font-size="13.3" text-anchor="end" fill="#000" textLength="23.6" lengthAdjust="spacingAndGlyphs">0.08</text>
<text x="57.9" y="404.1" font-size="13.3" text-anchor="end" fill="#000" textLength="23.6" lengthAdjust="spacingAndGlyphs">0.12</text>
<text x="57.9" y="368.0" font-size="13.3" text-anchor="end" fill="#000" textLength="23.6" lengthAdjust="spacingAndGlyphs">0.16</text>
<text x="57.9" y="331.9" font-size="13.3" text-anchor="end" fill="#000" textLength="16.8" lengthAdjust="spacingAndGlyphs">0.2</text>
<text x="57.9" y="295.9" font-size="13.3" text-anchor="end" fill="#000" textLength="23.6" lengthAdjust="spacingAndGlyphs">0.24</text>
<text x="283.1" y="553.8" font-size="14.2" text-anchor="middle" font-weight="bold" fill="#000" textLength="99.0" lengthAdjust="spacingAndGlyphs">Temperature (K)</text>
<text x="24.8" y="395.6" font-size="13.2" text-anchor="middle" font-weight="bold" fill="#000" textLength="85.8" lengthAdjust="spacingAndGlyphs" transform="rotate(-90 24.8 395.6)">–dw/dt (1/min)</text>
<rect x="388.4" y="295.2" width="83.2" height="45.2" fill="#fff" stroke="#dcdcdc" stroke-width="1"/>
<path d="M394.2,302.8 H420.3" stroke="#1f74c0" stroke-width="1.8"/>
<text x="423.3" y="306.4" font-size="11.6" fill="#000" textLength="37.6" lengthAdjust="spacingAndGlyphs">5 K/min</text>
<path d="M394.2,317.8 H420.3" stroke="#c00000" stroke-width="1.8"/>
<text x="423.3" y="321.3" font-size="11.6" fill="#000" textLength="42.8" lengthAdjust="spacingAndGlyphs">10 K/min</text>
<path d="M394.2,332.7 H420.3" stroke="#548235" stroke-width="1.8"/>
<text x="423.3" y="336.3" font-size="11.6" fill="#000" textLength="42.8" lengthAdjust="spacingAndGlyphs">20 K/min</text>
<path d="M508.1,250.2 H551.6 V239 L575.2,262.1 L551.6,285.2 V273.8 H508.1 Z" fill="#548235"/>
<path d="M847.1,82.1 H869.0 V91.2 H879.7 L858.0,112.9 L836.4,91.2 H847.1 Z" fill="#548235"/>
<path d="M847.1,173.0 H869.0 V182.1 H879.7 L858.0,203.9 L836.4,182.1 H847.1 Z" fill="#548235"/>
<path d="M849.2,260.0 H870.0 V273.0 H880.1 L859.6,290.0 L839.1,273.0 H849.2 Z" fill="#548235"/>
<path d="M847.1,347.1 H869.0 V356.2 H879.7 L858.0,377.9 L836.4,356.2 H847.1 Z" fill="#548235"/>
<path d="M847.1,438.0 H869.0 V447.2 H879.7 L858.0,468.9 L836.4,447.2 H847.1 Z" fill="#548235"/>
<rect x="595.0" y="22.0" width="526.0" height="32.8" fill="#548235"/>
<rect x="595.0" y="54.3" width="526.0" height="26.9" fill="#b9d7a8"/>
<path d="M631.4,25.0 H664.8 V51.5 A33.4,26.5 0 0 1 631.4,77.9 A33.4,26.5 0 0 1 598.0,51.5 A33.4,26.5 0 0 1 631.4,25.0 Z" fill="#c2dcb2" stroke="#e9f5e1" stroke-width="1.3"/>
<text x="630.2" y="56.1" font-size="16" text-anchor="middle" fill="#000">1</text>
<text x="880.5" y="42.0" font-size="15" text-anchor="middle" fill="#fff" textLength="218.1" lengthAdjust="spacingAndGlyphs" stroke="#fff" stroke-width="0.2">Activation Energy Determination</text>
<text x="879.7" y="70.8" font-size="15" text-anchor="middle" fill="#000" textLength="323.2" lengthAdjust="spacingAndGlyphs" stroke="#000" stroke-width="0.2">Isoconversional Models (FWO, KAS, and Starink)</text>
<rect x="595.0" y="113.0" width="526.0" height="31.8" fill="#548235"/>
<rect x="595.0" y="144.3" width="526.0" height="27.9" fill="#b9d7a8"/>
<path d="M630.4,116.0 H663.8 V142.4 A33.4,26.5 0 0 1 630.4,168.9 A33.4,26.5 0 0 1 597.0,142.4 A33.4,26.5 0 0 1 630.4,116.0 Z" fill="#c2dcb2" stroke="#e9f5e1" stroke-width="1.3"/>
<text x="629.2" y="147.0" font-size="16" text-anchor="middle" fill="#000">2</text>
<text x="880.5" y="132.2" font-size="15" text-anchor="middle" fill="#fff" textLength="246.7" lengthAdjust="spacingAndGlyphs" stroke="#fff" stroke-width="0.2">Reaction Mechanism/s Determination</text>
<text x="879.7" y="161.8" font-size="15" text-anchor="middle" fill="#000" textLength="289.5" lengthAdjust="spacingAndGlyphs" stroke="#000" stroke-width="0.2">Non-isoconversional Model (Coats-Redfern)</text>
<rect x="595.0" y="204.0" width="526.0" height="30.8" fill="#548235"/>
<rect x="595.0" y="234.3" width="526.0" height="27.3" fill="#b9d7a8"/>
<path d="M630.4,206.4 H663.8 V232.9 A33.4,26.5 0 0 1 630.4,259.5 A33.4,26.5 0 0 1 597.0,232.9 A33.4,26.5 0 0 1 630.4,206.4 Z" fill="#c2dcb2" stroke="#e9f5e1" stroke-width="1.3"/>
<text x="629.2" y="237.5" font-size="16" text-anchor="middle" fill="#000">3</text>
<text x="880.0" y="222.8" font-size="15" text-anchor="middle" fill="#fff" textLength="225.4" lengthAdjust="spacingAndGlyphs" stroke="#fff" stroke-width="0.2">Pre-exponential Factor Calculation</text>
<text x="880.5" y="251.5" font-size="15" text-anchor="middle" fill="#000" textLength="154.6" lengthAdjust="spacingAndGlyphs" stroke="#000" stroke-width="0.2">Isoconversional Models</text>
<rect x="595.0" y="287.4" width="526.0" height="32.2" fill="#548235"/>
<rect x="595.0" y="319.1" width="526.0" height="26.6" fill="#b9d7a8"/>
<path d="M631.9,291.0 H664.8 V317.2 A32.9,26.2 0 0 1 631.9,343.5 A32.9,26.2 0 0 1 599.0,317.2 A32.9,26.2 0 0 1 631.9,291.0 Z" fill="#c2dcb2" stroke="#e9f5e1" stroke-width="1.3"/>
<text x="630.7" y="321.9" font-size="16" text-anchor="middle" fill="#000">4</text>
<text x="880.6" y="307.0" font-size="15" text-anchor="middle" fill="#fff" textLength="229.2" lengthAdjust="spacingAndGlyphs" stroke="#fff" stroke-width="0.2">Reaction Mechanism/s Verification</text>
<text x="858.2" y="336.7" font-size="15" text-anchor="middle" fill="#000" textLength="137.5" lengthAdjust="spacingAndGlyphs" stroke="#000" stroke-width="0.2">Compensation Effect</text>
<rect x="595.0" y="378.4" width="526.0" height="31.0" fill="#548235"/>
<rect x="595.0" y="408.9" width="526.0" height="28.2" fill="#b9d7a8"/>
<path d="M630.9,381.0 H663.8 V407.9 A32.9,26.9 0 0 1 630.9,434.9 A32.9,26.9 0 0 1 598.0,407.9 A32.9,26.9 0 0 1 630.9,381.0 Z" fill="#c2dcb2" stroke="#e9f5e1" stroke-width="1.3"/>
<text x="629.7" y="412.6" font-size="16" text-anchor="middle" fill="#000">5</text>
<text x="881.0" y="397.2" font-size="15" text-anchor="middle" fill="#fff" textLength="258.5" lengthAdjust="spacingAndGlyphs" stroke="#fff" stroke-width="0.2">Thermodynamic Properties Calculation</text>
<text x="879.7" y="426.9" font-size="15" text-anchor="middle" fill="#000" textLength="102.2" lengthAdjust="spacingAndGlyphs" stroke="#000" stroke-width="0.2">ΔH, ΔG, and ΔS</text>
<rect x="595.0" y="469.0" width="526.0" height="30.4" fill="#548235"/>
<rect x="595.0" y="498.9" width="526.0" height="27.6" fill="#b9d7a8"/>
<path d="M630.9,472.0 H663.8 V498.7 A32.9,26.7 0 0 1 630.9,525.4 A32.9,26.7 0 0 1 598.0,498.7 A32.9,26.7 0 0 1 630.9,472.0 Z" fill="#c2dcb2" stroke="#e9f5e1" stroke-width="1.3"/>
<text x="629.7" y="503.3" font-size="16" text-anchor="middle" fill="#000">6</text>
<text x="880.2" y="488.0" font-size="15" text-anchor="middle" fill="#fff" textLength="285.4" lengthAdjust="spacingAndGlyphs" stroke="#fff" stroke-width="0.2">Artificial Neural Network (ANN) Modeling</text>
<text x="880.1" y="515.6" font-size="15" text-anchor="middle" fill="#000" textLength="268.3" lengthAdjust="spacingAndGlyphs" stroke="#000" stroke-width="0.2">high R, and low (RMSE, MAE, and MBE)</text>
</svg></body></html>
